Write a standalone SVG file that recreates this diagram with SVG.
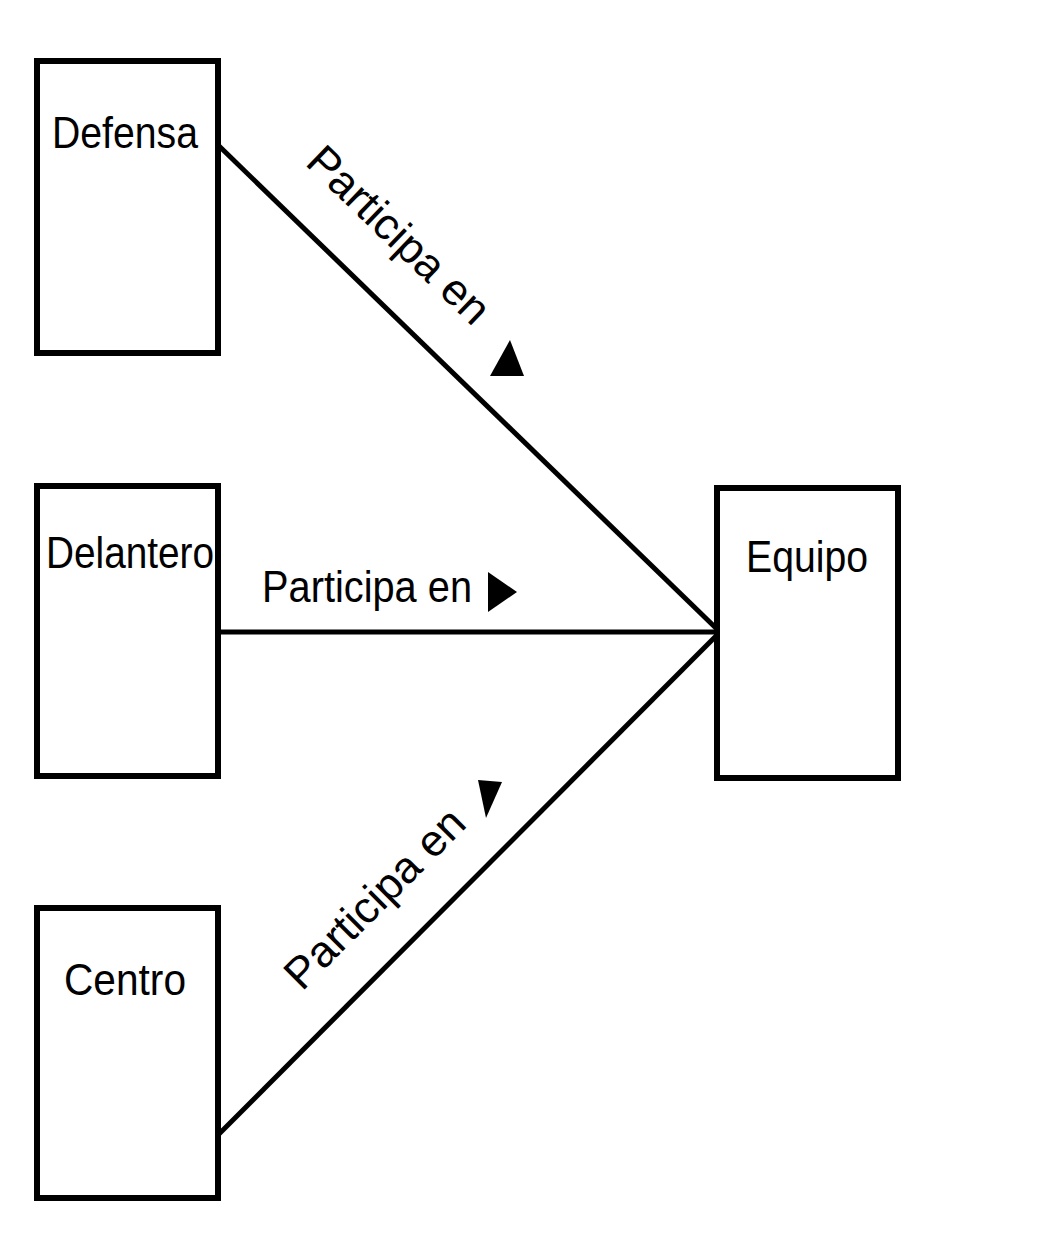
<svg xmlns="http://www.w3.org/2000/svg" width="1056" height="1256" viewBox="0 0 1056 1256">
<style>
.box{fill:#fff;stroke:#000;stroke-width:6}
.t{font-family:"Liberation Sans",Arial,sans-serif;font-size:44px;fill:#000}
.c{stroke:#000;stroke-width:5;fill:none}
</style>
<rect width="1056" height="1256" fill="#fff"/>
<g id="connectors">
<line class="c" x1="218" y1="145" x2="720" y2="632"/>
<line class="c" x1="218" y1="632" x2="720" y2="632"/>
<line class="c" x1="218" y1="1135" x2="720" y2="632"/>
<text class="t" transform="translate(304,164) rotate(44)" textLength="235" lengthAdjust="spacingAndGlyphs">Participa en</text>
<polygon points="490,376 524,376 510,340" fill="#000"/>
<text class="t" x="262" y="602" textLength="210" lengthAdjust="spacingAndGlyphs">Participa en</text>
<polygon points="488,572 488,612 517,592" fill="#000"/>
<text class="t" transform="translate(302,992) rotate(-45)" textLength="235" lengthAdjust="spacingAndGlyphs">Participa en</text>
<polygon points="478,780 502,782 486,818" fill="#000"/>
</g>
<g id="defensa"><rect class="box" x="37" y="61" width="181" height="292"/><text class="t" x="52" y="148" textLength="146" lengthAdjust="spacingAndGlyphs">Defensa</text></g>
<g id="delantero"><rect class="box" x="37" y="486" width="181" height="290"/><text class="t" x="46" y="568" textLength="168" lengthAdjust="spacingAndGlyphs">Delantero</text></g>
<g id="centro"><rect class="box" x="37" y="908" width="181" height="290"/><text class="t" x="64" y="995" textLength="122" lengthAdjust="spacingAndGlyphs">Centro</text></g>
<g id="equipo"><rect class="box" x="717" y="488" width="181" height="290"/><text class="t" x="746" y="572" textLength="122" lengthAdjust="spacingAndGlyphs">Equipo</text></g>
</svg>
